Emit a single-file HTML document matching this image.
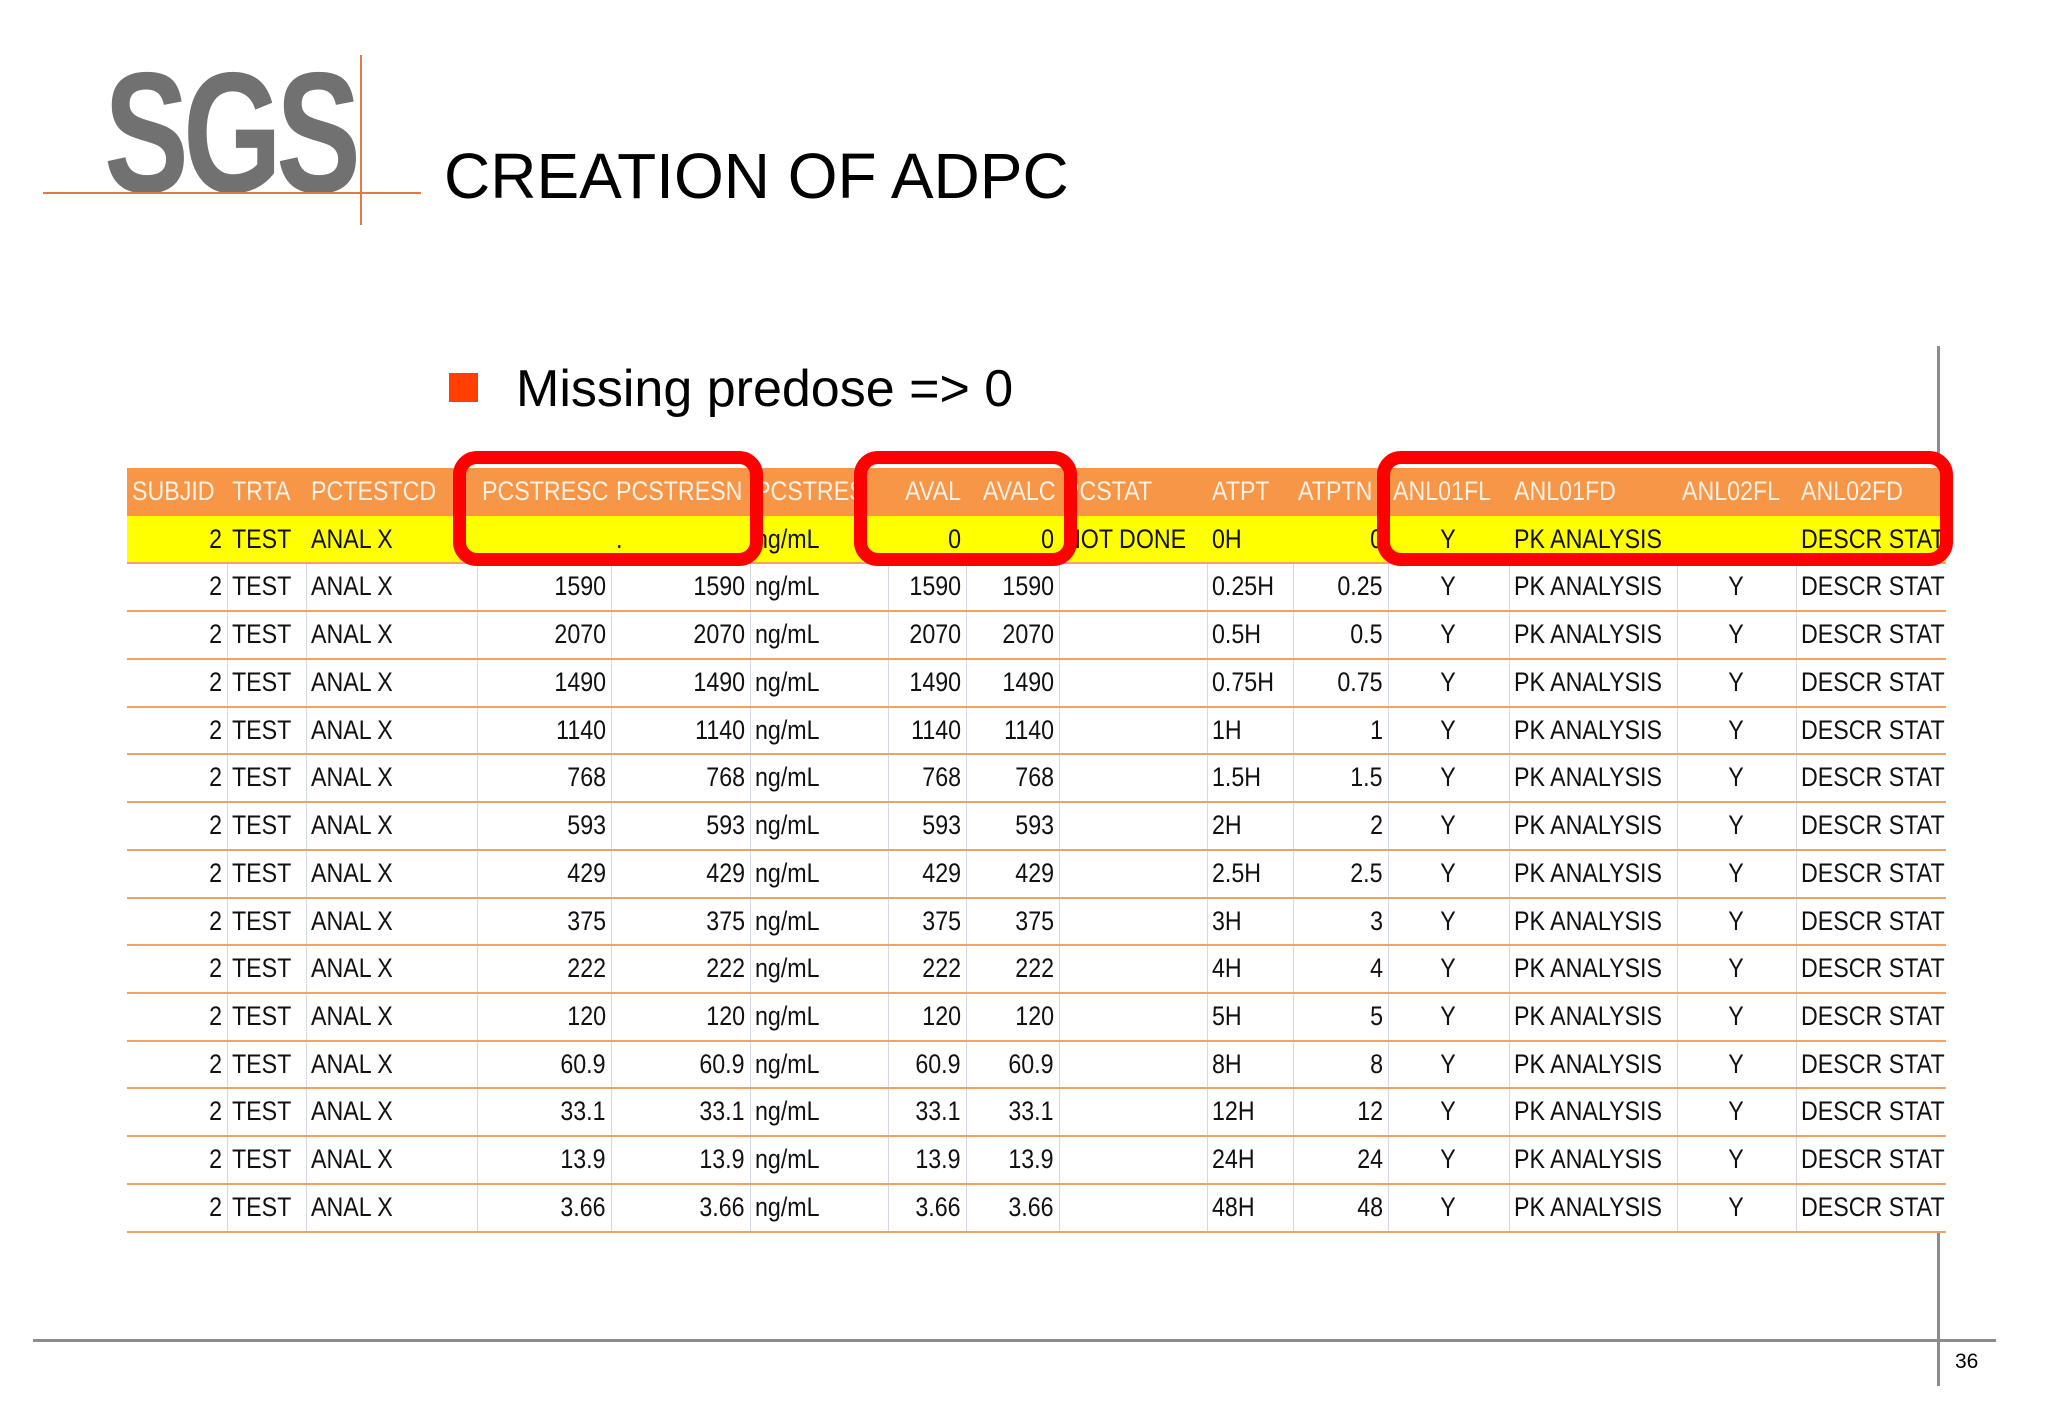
<!DOCTYPE html>
<html><head><meta charset="utf-8"><style>
body{margin:0;width:2048px;height:1418px;background:#fff;position:relative;overflow:hidden;font-family:"Liberation Sans",sans-serif}
.a{position:absolute}
.cell{position:absolute;font-family:"Liberation Sans",sans-serif;font-size:27px;white-space:nowrap;line-height:47px;box-sizing:border-box;padding:0 5px;color:#111}
.cell span{display:inline-block;transform:scaleX(0.86)}
.hd{color:#fdf1e6}
</style></head><body>
<div class="a" style="left:104px;top:58px;width:400px;height:150px;font-weight:bold;font-size:172px;line-height:150px;color:#717171;letter-spacing:-8px;transform:scaleX(0.74);transform-origin:left">SGS</div>
<div class="a" style="left:43px;top:192px;width:378px;height:2px;background:#e07b45"></div>
<div class="a" style="left:360px;top:55px;width:2px;height:170px;background:#e07b45"></div>
<div class="a" style="left:444px;top:136px;font-size:64px;line-height:80px;color:#000">CREATION OF ADPC</div>
<div class="a" style="left:449px;top:373px;width:29px;height:29px;background:#ff4000"></div>
<div class="a" style="left:516px;top:354px;font-size:52px;line-height:70px;color:#000">Missing predose =&gt; 0</div>
<div class="a" style="left:1937px;top:346px;width:3px;height:1040px;background:#8c8c8c"></div>
<div class="a" style="left:33px;top:1339px;width:1963px;height:3px;background:#8c8c8c"></div>
<div class="a" style="left:1955px;top:1350px;font-size:21px;color:#000">36</div>
<div id="tbl" class="a" style="left:0;top:0;width:2048px;height:1418px"></div>
<div class="a" style="left:453px;top:451px;width:310px;height:115px;border:13px solid #ff0000;border-radius:24px;box-sizing:border-box"></div>
<div class="a" style="left:854px;top:451px;width:223px;height:115px;border:13px solid #ff0000;border-radius:24px;box-sizing:border-box"></div>
<div class="a" style="left:1377px;top:451px;width:576px;height:115px;border:13px solid #ff0000;border-radius:24px;box-sizing:border-box"></div>
<script>
const headers=["SUBJID","TRTA","PCTESTCD","PCSTRESC","PCSTRESN","PCSTRES","AVAL","AVALC","PCSTAT","ATPT","ATPTN","ANL01FL","ANL01FD","ANL02FL","ANL02FD"];
const concValues=["1590","2070","1490","1140","768","593","429","375","222","120","60.9","33.1","13.9","3.66"];
const timeLabels=["0.25H","0.5H","0.75H","1H","1.5H","2H","2.5H","3H","4H","5H","8H","12H","24H","48H"];
const timeValues=["0.25","0.5","0.75","1","1.5","2","2.5","3","4","5","8","12","24","48"];
const colEdges=[127,227,306,477,611,750,888,966,1059,1207,1293,1388,1509,1677,1796,1946];
const align=["right","left","left","right","right","left","right","right","left","left","right","center","left","center","left"];
const hAlign=["left","left","left","left","left","left","right","right","left","left","left","left","left","left","left"];
const top0=468,rh=47.73;
const T=document.getElementById('tbl');
function box(x,y,w,h,bg,name){const d=document.createElement('div');d.className='a';d.style.cssText=`left:${x}px;top:${y}px;width:${w}px;height:${h}px;background:${bg}`;


T.appendChild(d);return d;}
function cell(c,r,txt,al,cls){const d=document.createElement('div');d.className='cell '+(cls||'');
d.style.left=colEdges[c]+'px';d.style.width=(colEdges[c+1]-colEdges[c])+'px';d.style.top=(top0+r*rh)+'px';d.style.height=rh+'px';d.style.textAlign=al;
const s=document.createElement('span');s.textContent=txt;s.style.transformOrigin=al;d.appendChild(s);


T.appendChild(d);}
const W=colEdges[colEdges.length-1]-colEdges[0];
box(colEdges[0],top0,W,rh,'#f79646','header-row');
box(colEdges[0],top0+rh,W,rh,'#ffff00','predose-row');
box(colEdges[0],top0+2*rh,W,rh*concValues.length,'#ffffff','data-body');
headers.forEach((h,c)=>cell(c,0,h,hAlign[c],'hd'));
const pre=["2","TEST","ANAL X","",".","ng/mL","0","0","NOT DONE","0H","0","Y","PK ANALYSIS","","DESCR STAT"];
pre.forEach((t,c)=>cell(c,1,t,c==4?'left':align[c]));
concValues.forEach((v,i)=>{const r=i+2;
for(let k=1;k<colEdges.length-1;k++){box(colEdges[k],top0+r*rh,1,rh,'#d3d9e6','col-sep');}
const row=["2","TEST","ANAL X",v,v,"ng/mL",v,v,"",timeLabels[i],timeValues[i],"Y","PK ANALYSIS","Y","DESCR STAT"];
row.forEach((t,c)=>cell(c,r,t,align[c]));
});
for(let r=2;r<=concValues.length+2;r++)box(colEdges[0],top0+r*rh-1,W,2,'#f4a261','row-line');
</script>
</body></html>
